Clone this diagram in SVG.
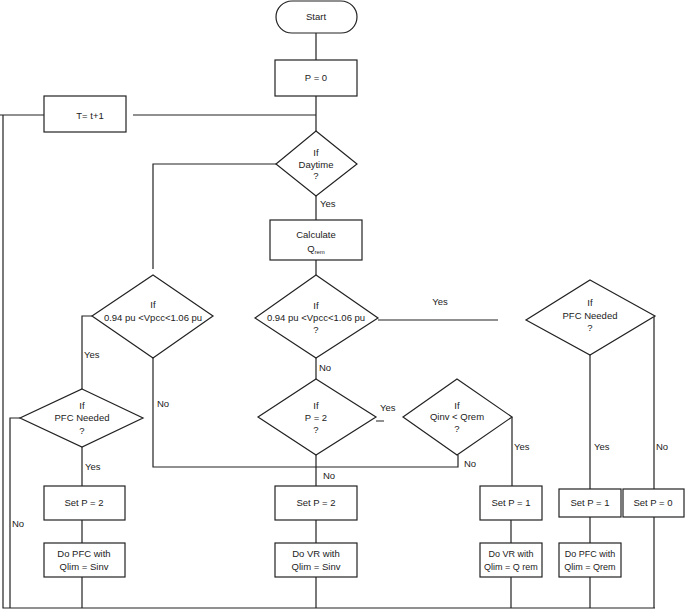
<svg xmlns="http://www.w3.org/2000/svg" width="685" height="610" viewBox="0 0 685 610">
<style>
.s{fill:#fff;stroke:#222;stroke-width:1.2}
.c{fill:none;stroke:#222;stroke-width:1.2}
text{font-family:"Liberation Sans",Arial,sans-serif;font-size:9.5px;fill:#222;text-anchor:middle}
.l{text-anchor:start}
.n{font-size:9px}
</style>
<rect width="685" height="610" fill="#fff"/>
<g id="connectors">
<path class="c" d="M316 33V60M316 96V131M0 115H51M133 115H316M3 115V608H655"/>
<path class="c" d="M276 164H153V269M316 196V220M316 260V275M378 320H498"/>
<path class="c" d="M92 316H82V389M153 358V467H458V455M316 358V379M316 455V486M316 520V543M316 577V608"/>
<path class="c" d="M20 418H10V608M82 447V486M82 520V543M82 577V608"/>
<path class="c" d="M512 417V486M511 520V543M511 577V608M590 355V489M590 517V543M590 577V608M654 316V489M654 517V608M376 421H384"/>
</g>
<g id="start"><rect class="s" x="276" y="1" width="81" height="32" rx="16"/><text x="316" y="20">Start</text></g>
<g id="p0"><rect class="s" x="275" y="60" width="82" height="36"/><text x="316" y="81">P = 0</text></g>
<g id="tinc"><rect class="s" x="44" y="96" width="82" height="36"/><text x="90" y="119">T= t+1</text></g>
<g id="daytime"><polygon class="s" points="316,131 357,164 316,196 276,164"/><text x="316" y="156">If</text><text x="316" y="168">Daytime</text><text x="316" y="179">?</text></g>
<text class="l" x="320" y="207">Yes</text>
<g id="calc"><rect class="s" x="270" y="220" width="92" height="40"/><text x="316" y="238">Calculate</text><text x="316" y="252">Q<tspan font-size="6" dy="2">rem</tspan></text></g>
<g id="vmid"><polygon class="s" points="316,275 378,318 316,358 255,318"/><text x="316" y="309">If</text><text x="316" y="321">0.94 pu &lt;Vpcc&lt;1.06 pu</text><text x="316" y="333">?</text></g>
<text x="440" y="305">Yes</text>
<g id="vleft"><polygon class="s" points="153,275 213,316 153,358 92,316"/><text x="153" y="308">If</text><text x="153" y="321">0.94 pu &lt;Vpcc&lt;1.06 pu</text></g>
<text class="l" x="84" y="358">Yes</text>
<text class="l" x="157" y="407">No</text>
<text class="l" x="319" y="371">No</text>
<g id="pfcl"><polygon class="s" points="82,389 143,418 82,447 20,418"/><text x="82" y="409">If</text><text x="82" y="421">PFC Needed</text><text x="82" y="434">?</text></g>
<text class="l" x="85" y="470">Yes</text>
<text class="l" x="12" y="527">No</text>
<g id="p2d"><polygon class="s" points="316,379 376,417 316,455 258,417"/><text x="316" y="409">If</text><text x="316" y="421">P = 2</text><text x="316" y="433">?</text></g>
<text class="l" x="380" y="411">Yes</text>
<g id="qinv"><polygon class="s" points="457,379 512,417 457,455 403,417"/><text x="457" y="409">If</text><text x="457" y="420">Qinv &lt; Qrem</text><text x="457" y="432">?</text></g>
<text class="l" x="464" y="467">No</text>
<text class="l" x="323" y="479">No</text>
<text class="l" x="514" y="450">Yes</text>
<g id="pfcr"><polygon class="s" points="590,280 655,316 590,355 526,320"/><text x="590" y="306">If</text><text x="590" y="319">PFC Needed</text><text x="590" y="331">?</text></g>
<text class="l" x="594" y="450">Yes</text>
<text class="l" x="656" y="450">No</text>
<g id="setp2l"><rect class="s" x="44" y="486" width="81" height="34"/><text x="84" y="506">Set P = 2</text></g>
<g id="dopfcl"><rect class="s" x="44" y="543" width="81" height="34"/><text x="84" y="557">Do PFC with</text><text x="84" y="570">Qlim = Sinv</text></g>
<g id="setp2m"><rect class="s" x="275" y="486" width="82" height="34"/><text x="316" y="506">Set P = 2</text></g>
<g id="dovrm"><rect class="s" x="275" y="543" width="82" height="34"/><text x="316" y="557">Do VR with</text><text x="316" y="570">Qlim = Sinv</text></g>
<g id="setp1a"><rect class="s" x="480" y="486" width="62" height="34"/><text x="511" y="506">Set P = 1</text></g>
<g id="dovrq"><rect class="s" x="480" y="543" width="62" height="34"/><text class="n" x="511" y="557">Do VR with</text><text class="n" x="511" y="570">Qlim = Q rem</text></g>
<g id="setp1b"><rect class="s" x="559" y="489" width="62" height="28"/><text x="590" y="506">Set P = 1</text></g>
<g id="dopfcr"><rect class="s" x="559" y="543" width="62" height="34"/><text class="n" x="590" y="557">Do PFC with</text><text class="n" x="590" y="570">Qlim = Qrem</text></g>
<g id="setp0"><rect class="s" x="623" y="489" width="61" height="28"/><text x="653" y="506">Set P = 0</text></g>
</svg>
